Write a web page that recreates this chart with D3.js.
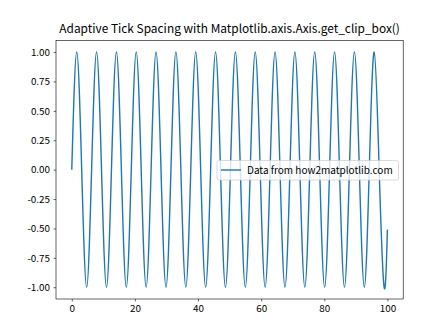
<!DOCTYPE html>
<html><head><meta charset="utf-8">
<script src="https://cdn.jsdelivr.net/npm/d3@7"></script>
<style>body{margin:0;background:#fff}svg{display:block}text{font-family:"Noto Sans CJK SC","DejaVu Sans",sans-serif}</style>
</head><body><svg id="c" width="448" height="336"></svg>
<script>
const title = "Adaptive Tick Spacing with Matplotlib.axis.Axis.get_clip_box()";
const legendLabel = "Data from how2matplotlib.com";
const xTicks = [0, 20, 40, 60, 80, 100];
const yTicks = [-1.00, -0.75, -0.50, -0.25, 0.00, 0.25, 0.50, 0.75, 1.00];
const xs = [0,1.57,3.14,4.71,6.28,7.85,9.42,11.00,12.57,14.14,15.71,17.28,18.85,20.42,21.99,23.56,
25.13,26.70,28.27,29.85,31.42,32.99,34.56,36.13,37.70,39.27,40.84,42.41,43.98,45.55,47.12,48.69,
50.27,51.84,53.41,54.98,56.55,58.12,59.69,61.26,62.83,64.40,65.97,67.54,69.12,70.69,72.26,73.83,
75.40,76.97,78.54,80.11,81.68,83.25,84.82,86.39,87.96,89.54,91.11,92.68,94.25,95.82,97.39,98.96,100];
const ys = [0,1,0,-1,0,1,0,-1,0,1,0,-1,0,1,0,-1,
0,1,0,-1,0,1,0,-1,0,1,0,-1,0,1,0,-1,
0,1,0,-1,0,1,0,-1,0,1,0,-1,0,1,0,-1,
0,1,0,-1,0,1,0,-1,0,1,0,-1,0,1,0,-1,-0.51];

const svg = d3.select("#c");
const L = 56, R = 403.2, T = 40.3, B = 299;
const x = d3.scaleLinear().domain([-5, 105]).range([L, R]);
const y = d3.scaleLinear().domain([-1.1, 1.1]).range([B, T]);

const pts = xs.map((v, i) => [v, ys[i]]);
svg.append("path").datum(pts)
  .attr("fill", "none").attr("stroke", "#1f77b4").attr("stroke-width", 1.4)
  .attr("d", d3.line().x(d => x(d[0])).y(d => y(d[1])).curve(d3.curveNatural));

const xa = svg.append("g").attr("transform", `translate(0,${B})`)
  .call(d3.axisBottom(x).tickValues(xTicks).tickSize(2.45).tickPadding(3.5).tickFormat(d3.format("d")));
const ya = svg.append("g").attr("transform", `translate(${L},0)`)
  .call(d3.axisLeft(y).tickValues(yTicks).tickSize(2.45).tickPadding(3.5).tickFormat(d3.format(".2f")));
[xa, ya].forEach(a => {
  a.select(".domain").remove();
  a.selectAll("line").attr("stroke", "#000").attr("stroke-width", 0.6);
  a.selectAll("text").attr("fill", "#000").style("font-size", "9.9px")
   .style("font-family", '"Noto Sans CJK SC","DejaVu Sans",sans-serif');
});
ya.selectAll("text").text(d => d3.format(".2f")(d).replace("−", "-"));

svg.append("rect").attr("x", L).attr("y", T).attr("width", R - L).attr("height", B - T)
  .attr("fill", "none").attr("stroke", "#000").attr("stroke-width", 0.6);

svg.append("text").attr("x", (L + R) / 2).attr("y", T - 7).attr("text-anchor", "middle")
  .style("font-size", "11.9px").attr("fill", "#000").text(title);

const lg = svg.append("g");
lg.append("rect").attr("x", 217).attr("y", 160.5).attr("width", 181.5).attr("height", 19.5)
  .attr("rx", 2).attr("fill", "rgba(255,255,255,0.8)").attr("stroke", "#cccccc").attr("stroke-width", 0.7);
lg.append("line").attr("x1", 221).attr("x2", 241).attr("y1", 170).attr("y2", 170)
  .attr("stroke", "#1f77b4").attr("stroke-width", 1.4);
lg.append("text").attr("x", 247).attr("y", 170).attr("dy", "0.35em")
  .style("font-size", "10px").attr("fill", "#000").text(legendLabel);
</script></body></html>
